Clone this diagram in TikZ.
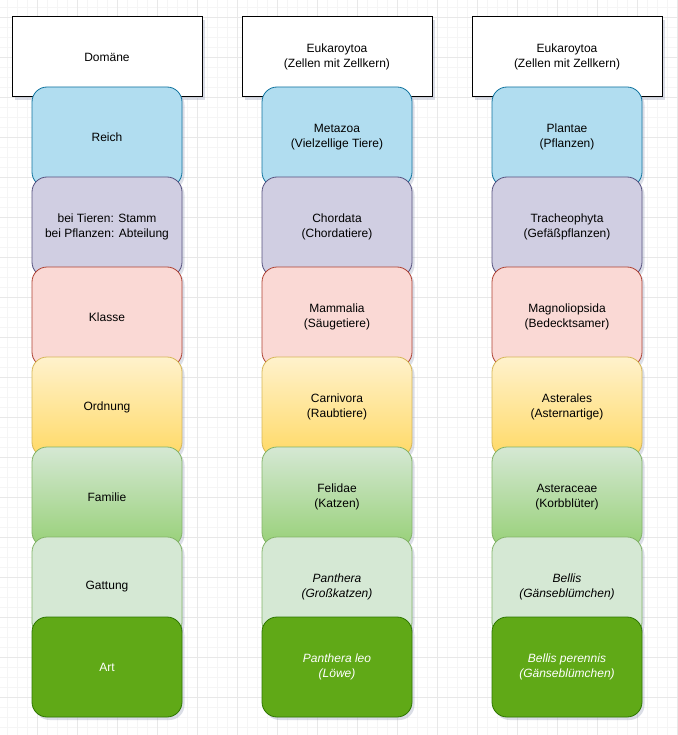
\documentclass[tikz,border=0pt]{standalone}
\usepackage{fontspec}
\setmainfont{Liberation Sans}
\usetikzlibrary{shadows}
\definecolor{minorg}{HTML}{F5F5F5}
\definecolor{majorg}{HTML}{E8E8E8}
\definecolor{blueF}{HTML}{B1DDF0}\definecolor{blueD}{HTML}{10739E}
\definecolor{purpF}{HTML}{D0CEE2}\definecolor{purpD}{HTML}{56517E}
\definecolor{redF}{HTML}{FAD9D5}\definecolor{redD}{HTML}{AE4132}
\definecolor{yelT}{HTML}{FFF2CC}\definecolor{yelB}{HTML}{FFD966}\definecolor{yelD}{HTML}{D6B656}
\definecolor{grnT}{HTML}{D5E8D4}\definecolor{grnB}{HTML}{97D077}\definecolor{grnD}{HTML}{82B366}
\definecolor{artF}{HTML}{60A917}\definecolor{artD}{HTML}{2D7600}
\definecolor{shad}{HTML}{8A93B0}
\begin{document}
\begin{tikzpicture}[x=1pt,y=1pt,
  every node/.style={font=\fontsize{12}{15.5}\selectfont, align=center},
  shad/.style={drop shadow={shadow xshift=2.5pt, shadow yshift=-3pt, opacity=0.3, fill=shad}},
  hbox/.style={draw=black, line width=1pt, fill=white, minimum width=190pt, minimum height=80pt, inner sep=0pt, shad},
  rbox/.style={line width=0.8pt, rounded corners=15pt, minimum width=150pt, minimum height=100pt, inner sep=0pt, shad},
  reich/.style={rbox, fill=blueF, draw=blueD},
  stamm/.style={rbox, fill=purpF, draw=purpD},
  klasse/.style={rbox, fill=redF, draw=redD},
  ordnung/.style={rbox, top color=yelT, bottom color=yelB, draw=yelD},
  familie/.style={rbox, top color=grnT, bottom color=grnB, draw=grnD},
  gattung/.style={rbox, fill=grnT, draw=grnD},
  art/.style={rbox, fill=artF, draw=artD, text=white},
  minorgrid/.style={draw=minorg, line width=0.5pt},
  majorgrid/.style={draw=majorg, line width=0.7pt}
]
\useasboundingbox (0,0) rectangle (677,-735);
\fill[white] (0,0) rectangle (677,-735);
% grid
\foreach \i in {0,...,67} {\draw[minorgrid] (\i*10+7,0) -- (\i*10+7,-735);}
\foreach \i in {0,...,73} {\draw[minorgrid] (0,-\i*10-7) -- (677,-\i*10-7);}
\foreach \i in {0,...,16} {\draw[majorgrid] (\i*40+37,0) -- (\i*40+37,-735);}
\foreach \i in {0,...,18} {\draw[majorgrid] (0,-\i*40-17) -- (677,-\i*40-17);}
% column 1
\node[hbox] (h1) at (107,-57) {Domäne};
\node[reich] (r1) at (107,-137) {Reich};
\node[stamm] (s1) at (107,-227) {bei Tieren: Stamm\\bei Pflanzen: Abteilung};
\node[klasse] (k1) at (107,-317) {Klasse};
\node[ordnung] (o1) at (107,-407) {Ordnung};
\node[familie] (f1) at (107,-497) {Familie};
\node[gattung] (g1) at (107,-587) {Gattung};
\node[art] (a1) at (107,-667) {Art};
% column 2
\node[hbox] (h2) at (337,-57) {Eukaroytoa\\(Zellen mit Zellkern)};
\node[reich] (r2) at (337,-137) {Metazoa\\(Vielzellige Tiere)};
\node[stamm] (s2) at (337,-227) {Chordata\\(Chordatiere)};
\node[klasse] (k2) at (337,-317) {Mammalia\\(Säugetiere)};
\node[ordnung] (o2) at (337,-407) {Carnivora\\(Raubtiere)};
\node[familie] (f2) at (337,-497) {Felidae\\(Katzen)};
\node[gattung] (g2) at (337,-587) {\itshape Panthera\\\itshape (Großkatzen)};
\node[art] (a2) at (337,-667) {\itshape Panthera leo\\\itshape (Löwe)};
% column 3
\node[hbox] (h3) at (567,-57) {Eukaroytoa\\(Zellen mit Zellkern)};
\node[reich] (r3) at (567,-137) {Plantae\\(Pflanzen)};
\node[stamm] (s3) at (567,-227) {Tracheophyta\\(Gefäßpflanzen)};
\node[klasse] (k3) at (567,-317) {Magnoliopsida\\(Bedecktsamer)};
\node[ordnung] (o3) at (567,-407) {Asterales\\(Asternartige)};
\node[familie] (f3) at (567,-497) {Asteraceae\\(Korbblüter)};
\node[gattung] (g3) at (567,-587) {\itshape Bellis\\\itshape (Gänseblümchen)};
\node[art] (a3) at (567,-667) {\itshape Bellis perennis\\\itshape (Gänseblümchen)};
\end{tikzpicture}
\end{document}
